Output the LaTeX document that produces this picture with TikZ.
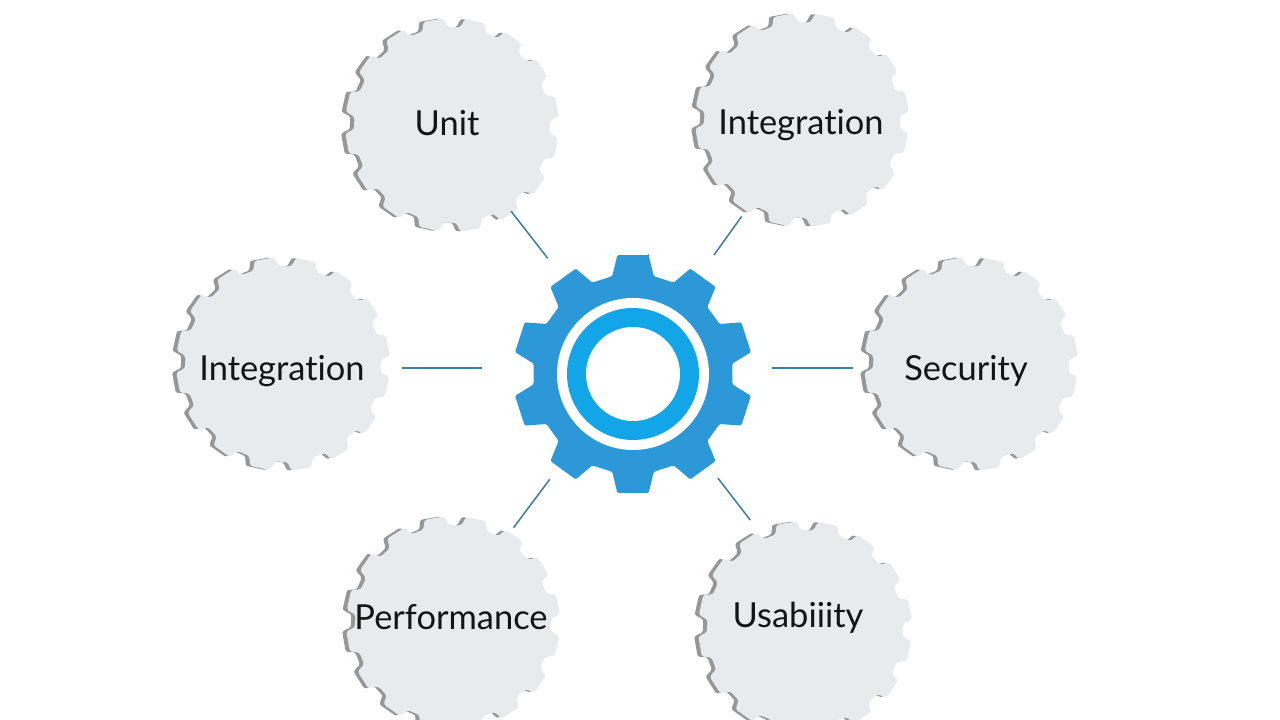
\documentclass[tikz,border=0pt]{standalone}
\usepackage{xcolor}
\usepackage{fontspec}
\setmainfont[Ligatures=NoCommon]{Lato}
\definecolor{cogblue}{HTML}{2C98D8}
\definecolor{ringblue}{HTML}{12A6E8}
\definecolor{linkblue}{HTML}{3F7F9F}
\definecolor{coggray}{HTML}{E9EAEB}
\definecolor{cogshade}{HTML}{979797}
\tikzset{
	every node/.style={inner sep=0pt,outer sep=0pt},
	testgear/.style={circle,minimum size=218*0.025cm,font=\fontsize{24.5}{25}\selectfont,text=black!92},
	hubgear/.style={circle,minimum size=278*0.025cm},
	link/.style={draw=linkblue,line width=1.1pt}
}
% #1 teeth, #2 phase, #3 half tip, #4 half root, #5 tip radius, #6 root radius
\newcommand{\cogpath}[6]{
	(#2-#3:#5) \foreach \k in {1,...,#1}{
		-- ({#2+(\k-1)*360/#1+#3}:#5)
		-- ({#2+(\k-1)*360/#1+#4}:#6)
		-- ({#2+\k*360/#1-#4}:#6)
		-- ({#2+\k*360/#1-#3}:#5)
	} -- cycle
}
\begin{document}
\begin{tikzpicture}[x=0.025cm,y=0.025cm]
	\useasboundingbox (0,0) rectangle (1280,720);
	\clip (0,0) rectangle (1280,720);
	% outer gears
	\foreach \cx/\cy in {452/595,802/600,283/356,971/356,453/97,805/92}{
		\begin{scope}[shift={(\cx,\cy)}]
			\fill[cogshade,xshift=-3,rounded corners=1.5pt] \cogpath{16}{10}{5.5}{7.5}{107}{98};
			\fill[coggray,rounded corners=2pt] \cogpath{16}{10}{5.5}{7.5}{107}{98};
		\end{scope}
	}
	% centre gear
	\begin{scope}[shift={(633,346)}]
		\fill[cogblue,rounded corners=1pt] \cogpath{10}{90}{7.5}{12}{120}{100};
		\fill[white] (0,0) circle (76);
		\fill[ringblue] (0,0) circle (66);
		\fill[white] (0,0) circle (47);
	\end{scope}
	\node[hubgear] (hub) at (633,352) {};
	\node[testgear] (unit) at (447,597) {Unit};
	\node[testgear] (integrationa) at (801,595) {Integration};
	\node[testgear] (integrationb) at (282,349) {Integration};
	\node[testgear] (security) at (966,349) {Security};
	\node[testgear] (performance) at (451,103) {Performance};
	\node[testgear] (usability) at (798,102) {Usabiiity};
	\draw[link] (hub) -- (unit.-54);
	\draw[link] (hub) -- (integrationa.237.5);
	\draw[link,shorten <=12*0.025cm,shorten >=11*0.025cm] (hub.west) -- (hub.west -| integrationb.east);
	\draw[link,shorten >=4*0.025cm] (hub.east) -- (hub.east -| security.west);
	\draw[link] (hub) -- (performance.55);
	\draw[link] (hub) -- (usability.116);
\end{tikzpicture}
\end{document}
